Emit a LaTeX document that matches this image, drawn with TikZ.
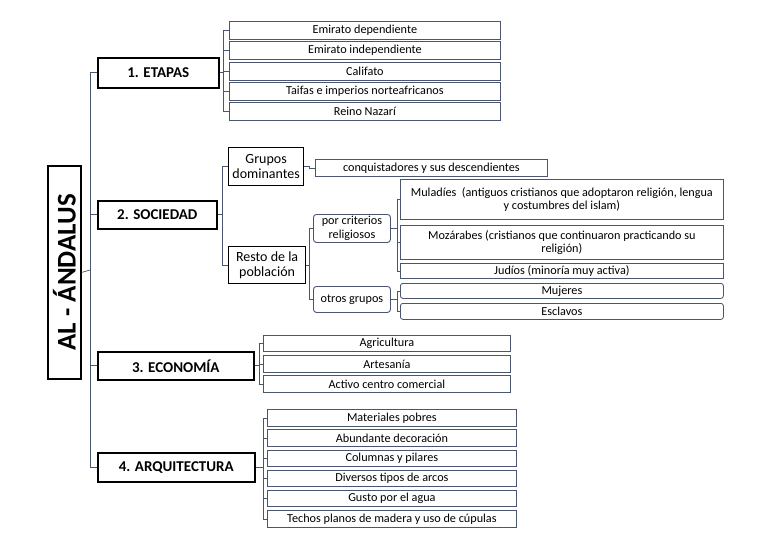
\documentclass[tikz,border=0pt]{standalone}
\usepackage{fontspec}
\setmainfont{Carlito}
\usetikzlibrary{calc}
\definecolor{slate}{HTML}{4A5670}
\begin{document}
\begin{tikzpicture}[x=1pt,y=-1pt,
  leaf/.style={draw=slate,line width=0.8pt,anchor=north west,inner sep=0pt,align=center,font=\fontsize{12.2}{13.5}\selectfont},
  rleaf/.style={leaf,rounded corners=2.5pt},
  main/.style={draw=black,line width=1.6pt,anchor=north west,inner sep=0pt,font=\bfseries\fontsize{15}{17}\selectfont},
  mid/.style={draw=black,line width=1.2pt,anchor=north west,inner sep=0pt,align=center,font=\fontsize{14}{15.5}\selectfont},
  rmid/.style={draw=slate,line width=0.9pt,rounded corners=3pt,anchor=north west,inner sep=0pt,align=center,font=\fontsize{12.2}{13.5}\selectfont},
  con/.style={draw=slate,line width=0.7pt}]
\useasboundingbox (0,0) rectangle (768,543);
\newcommand\bx[7]{\node[#1,minimum width=#4pt,minimum height=#5pt] (#2) at (#3) {#6#7};}
% root
\node[draw=black,line width=1.8pt,minimum width=33pt,minimum height=213pt,anchor=north west,inner sep=0pt] (al) at (47,165) {};
\node[rotate=90,font=\bfseries\fontsize{27}{30}\selectfont] (alt) at (al.center) {AL - ÁNDALUS};
% main
\bx{main}{et}{97,57}{121}{30}{1. ETAPAS}{}
\bx{main}{so}{97,200}{119}{28}{2. SOCIEDAD}{}
\bx{main}{ec}{97,351}{156}{28}{3. ECONOMÍA}{}
\bx{main}{ar}{97,452}{157}{29}{4. ARQUITECTURA}{}
\coordinate (sp) at (90,270);
\draw[con] (al.east) -- (sp);
\foreach \n in {et,so,ec,ar} \draw[con] (\n.west) -| (sp);
% etapas
\bx{leaf}{e1}{229,21}{271}{18}{Emirato dependiente}{}
\bx{leaf}{e2}{229,41}{271}{18}{Emirato independiente}{}
\bx{leaf}{e3}{229,62}{271}{18}{Califato}{}
\bx{leaf}{e4}{229,82}{271}{18}{Taifas e imperios norteafricanos}{}
\bx{leaf}{e5}{229,102}{271}{18}{Reino Nazarí}{}
\coordinate (ets) at ($(et.east)+(4,0)$);
\draw[con] (et.east) -- (ets);
\foreach \n in {e1,e2,e3,e4,e5} \draw[con] (\n.west) -| (ets);
% sociedad
\bx{mid}{gd}{228,147}{75}{38}{Grupos\\dominantes}{}
\bx{mid}{rp}{228,246}{77}{37}{Resto de la\\población}{}
\coordinate (sos) at ($(so.east)+(5,0)$);
\draw[con] (so.east) -- (sos);
\foreach \n in {gd,rp} \draw[con] (\n.west) -| (sos);
\bx{leaf}{cq}{315,159}{232}{17}{conquistadores y sus descendientes}{}
\draw[con] (gd.east) -- ++(5,0) |- (cq.west);
\bx{rmid}{pc}{313,214}{77}{28}{por criterios\\religiosos}{}
\bx{rmid}{og}{313,286}{77}{26}{otros grupos}{}
\coordinate (rps) at ($(rp.east)+(3,0)$);
\draw[con] (rp.east) -- (rps);
\foreach \n in {pc,og} \draw[con] (\n.west) -| (rps);
\bx{leaf}{mu}{400,179}{323}{40}{Muladíes\ \ (antiguos cristianos que adoptaron religión, lengua\\y costumbres del islam)}{}
\bx{leaf}{mo}{400,225}{323}{34}{Mozárabes (cristianos que continuaron practicando su\\religión)}{}
\bx{leaf}{ju}{400,263}{323}{15}{Judíos (minoría muy activa)}{}
\coordinate (pcs) at ($(pc.east)+(6,0)$);
\draw[con] (pc.east) -- (pcs);
\foreach \n in {mu,mo,ju} \draw[con] (\n.west) -| (pcs);
\bx{rleaf}{mj}{400,283}{323}{15}{Mujeres}{}
\bx{rleaf}{es}{400,303}{323}{16}{Esclavos}{}
\coordinate (ogs) at ($(og.east)+(6,0)$);
\draw[con] (og.east) -- (ogs);
\foreach \n in {mj,es} \draw[con] (\n.west) -| (ogs);
% economia
\bx{leaf}{c1}{263,335}{247}{16}{Agricultura}{}
\bx{leaf}{c2}{263,355}{247}{17}{Artesanía}{}
\bx{leaf}{c3}{263,375}{247}{17}{Activo centro comercial}{}
\coordinate (ecs) at ($(ec.east)+(5,0)$);
\draw[con] (ec.east) -- (ecs);
\foreach \n in {c1,c2,c3} \draw[con] (\n.west) -| (ecs);
% arquitectura
\bx{leaf}{a1}{267,409}{249}{17}{Materiales pobres}{}
\bx{leaf}{a2}{267,429}{249}{17}{Abundante decoración}{}
\bx{leaf}{a3}{267,450}{249}{16}{Columnas y pilares}{}
\bx{leaf}{a4}{267,470}{249}{16}{Diversos tipos de arcos}{}
\bx{leaf}{a5}{267,490}{249}{16}{Gusto por el agua}{}
\bx{leaf}{a6}{267,510}{249}{17}{Techos planos de madera y uso de cúpulas}{}
\coordinate (ars) at ($(ar.east)+(8,0)$);
\draw[con] (ar.east) -- (ars);
\foreach \n in {a1,a2,a3,a4,a5,a6} \draw[con] (\n.west) -| (ars);
\end{tikzpicture}
\end{document}
